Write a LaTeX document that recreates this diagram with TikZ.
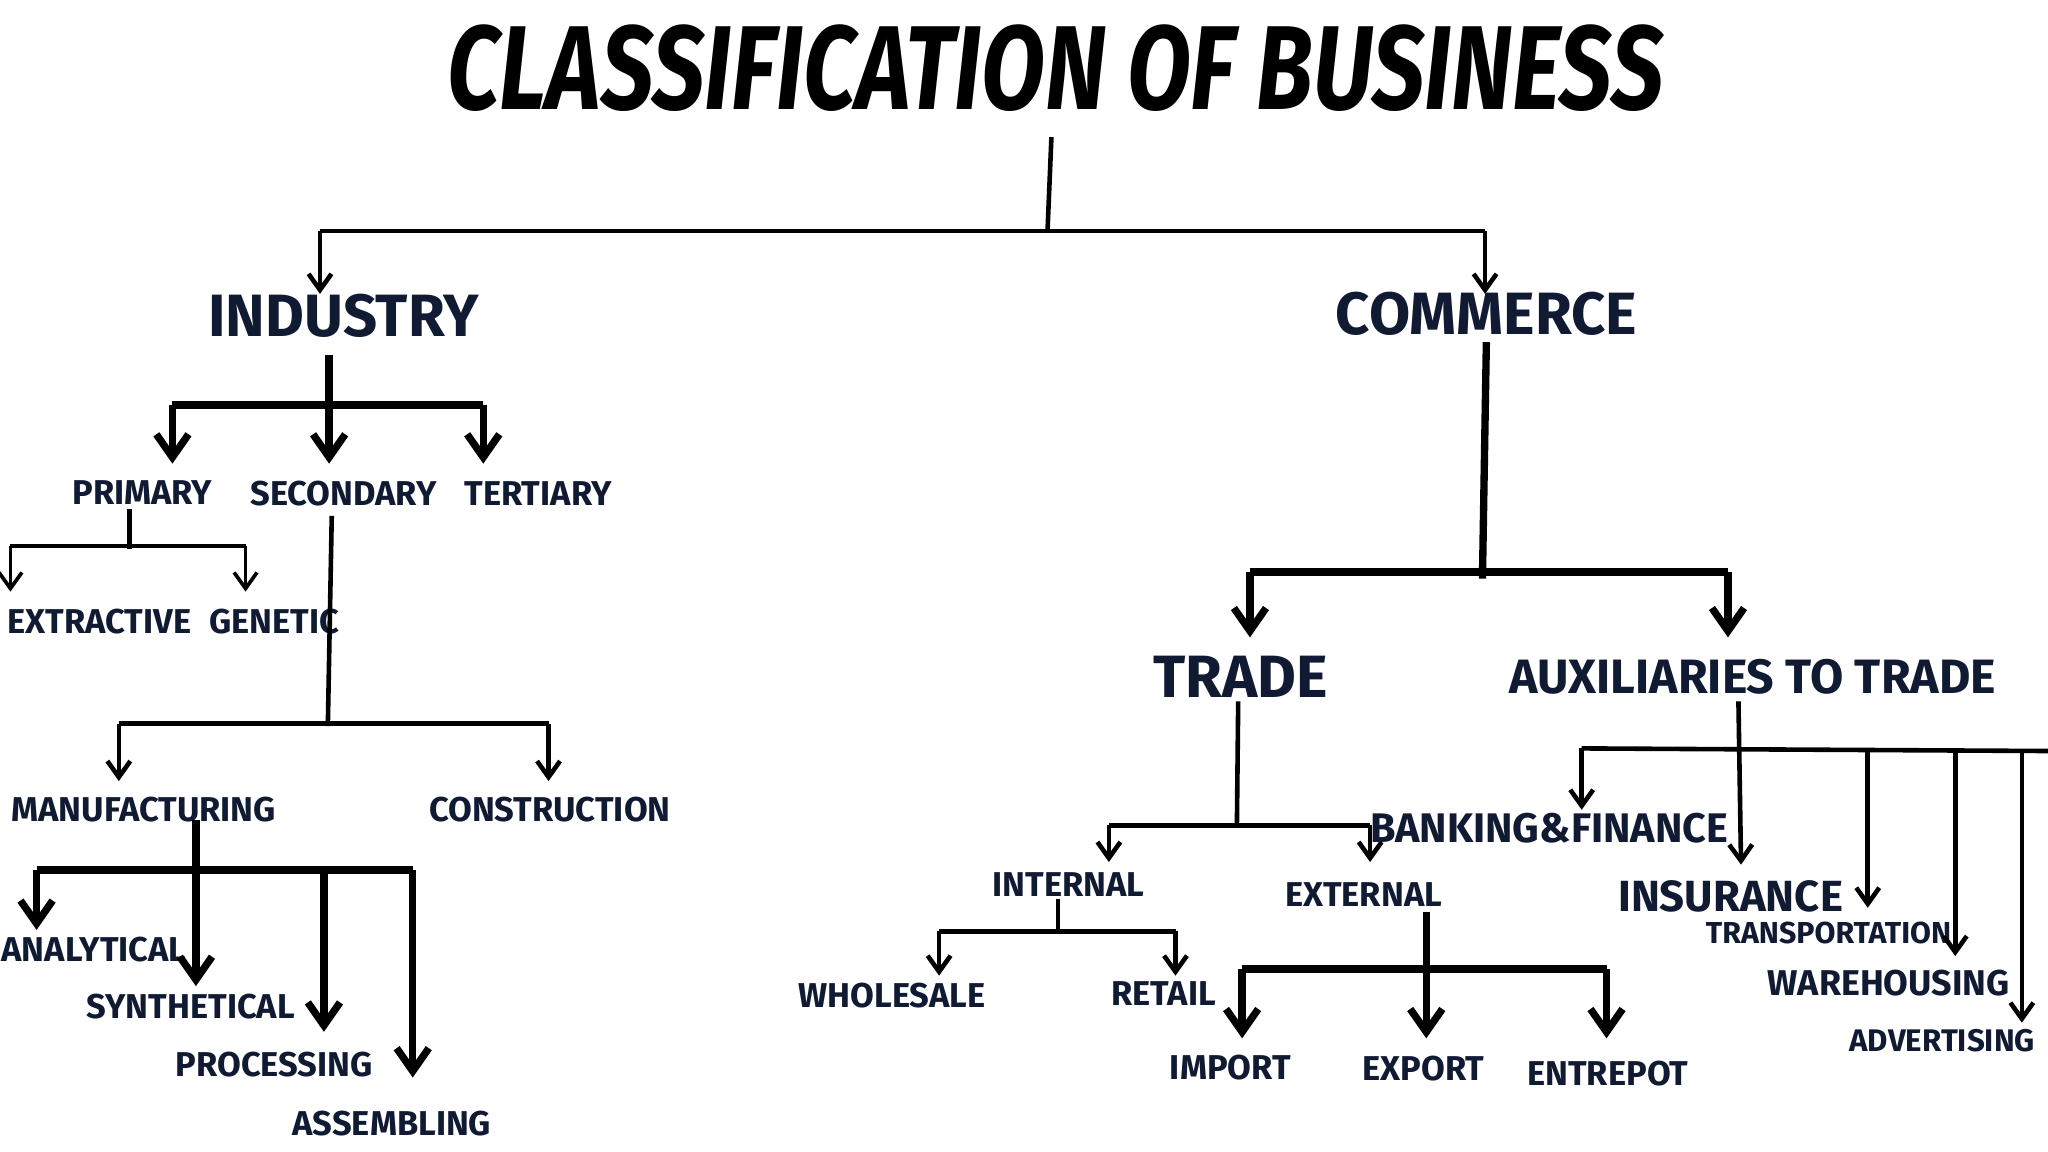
\documentclass[tikz,border=0pt]{standalone}
\usepackage{fontspec}
\setmainfont{Fira Sans}
\usetikzlibrary{arrows.meta}
\definecolor{navy}{HTML}{101B33}
\tikzset{
  lbl/.style={text=navy,font=\bfseries,inner sep=0pt},
  big/.style={lbl,font=\bfseries\fontsize{13}{13}\selectfont},
  mid/.style={lbl,font=\bfseries\fontsize{10.5}{10.5}\selectfont},
  sml/.style={lbl,font=\bfseries\fontsize{7.5}{7.5}\selectfont},
  ln/.style={line width=1pt,black},
  thk/.style={line width=1.6pt,black},
  arr/.style={ln,-{Straight Barb[length=3.5pt,width=5pt]}},
  tarr/.style={thk,-{Straight Barb[length=5pt,width=7pt]}},
}
\begin{document}
\begin{tikzpicture}[x=0.01cm,y=-0.01cm]
\useasboundingbox[fill=white] (0,0) rectangle (1568,882);
\node[lbl,text=black,font=\bfseries\itshape\fontsize{26}{26}\selectfont] (title) at (808,52) {\scalebox{0.78}[1]{CLASSIFICATION OF BUSINESS}};
% level 1
\node[big] (ind) at (263,242) {INDUSTRY};
\node[big] (com) at (1138,240) {COMMERCE};
\coordinate (t0) at (805,105); \coordinate (t1) at (802,177);
\coordinate (ti) at (245,177); \coordinate (tc) at (1137,177);
\draw[ln] (t0) -- (t1);
\draw[ln] (ti) -- (tc);
\draw[arr] (ti) -- (245,225);
\draw[arr] (tc) -- (1137,225);
% industry
\node[sml] (pri) at (109,377) {PRIMARY};
\node[sml] (sec) at (263,378) {SECONDARY};
\node[sml] (ter) at (412,378) {TERTIARY};
\draw[thk] (252,272) -- (252,310);
\draw[thk] (132,310) -- (370,310);
\draw[tarr] (132,310) -- (132,355);
\draw[tarr] (252,310) -- (252,355);
\draw[tarr] (370,310) -- (370,355);
\node[sml] (ext) at (76,476) {EXTRACTIVE};
\node[sml] (gen) at (210,476) {GENETIC};
\draw[ln] (99,390) -- (99,420);
\draw[ln] (8,418) -- (188,418);
\draw[arr,line width=0.8pt] (8,418) -- (8,453);
\draw[arr,line width=0.8pt] (188,418) -- (188,453);
\node[sml] (man) at (110,620) {MANUFACTURING};
\node[sml] (con) at (421,620) {CONSTRUCTION};
\draw[ln] (254,395) -- (251,556);
\draw[ln] (91,554) -- (420,554);
\draw[arr] (91,554) -- (91,598);
\draw[arr] (420,554) -- (420,598);
\node[sml] (ana) at (72,727) {ANALYTICAL};
\node[sml] (syn) at (146,771) {SYNTHETICAL};
\node[sml] (pro) at (210,815) {PROCESSING};
\node[sml] (ass) at (300,860) {ASSEMBLING};
\draw[thk] (150,628) -- (150,666);
\draw[thk] (28,666) -- (316,666);
\draw[tarr] (28,666) -- (28,712);
\draw[tarr] (150,666) -- (150,755);
\draw[tarr] (248,666) -- (248,790);
\draw[tarr] (316,666) -- (316,825);
% commerce
\node[big] (tra) at (950,518) {TRADE};
\node[mid] (aux) at (1342,518) {AUXILIARIES TO TRADE};
\draw[thk] (1138,262) -- (1135,443);
\draw[thk] (957,438) -- (1323,438);
\draw[tarr] (957,438) -- (957,488);
\draw[tarr] (1323,438) -- (1323,488);
\node[sml] (int) at (818,677) {INTERNAL};
\node[sml] (exr) at (1044,685) {EXTERNAL};
\draw[ln] (948,537) -- (947,633);
\draw[ln] (849,632) -- (1049,632);
\draw[arr] (849,632) -- (849,660);
\draw[arr] (1049,632) -- (1049,660);
\node[sml] (who) at (683,762) {WHOLESALE};
\node[sml] (ret) at (891,761) {RETAIL};
\draw[ln] (810,688) -- (810,713);
\draw[ln] (719,713) -- (900,713);
\draw[arr] (719,713) -- (719,747);
\draw[arr] (900,713) -- (900,747);
\node[sml] (imp) at (942,817) {IMPORT};
\node[sml] (exp) at (1090,818) {EXPORT};
\node[sml] (ent) at (1231,822) {ENTREPOT};
\draw[thk] (1092,698) -- (1092,742);
\draw[thk] (951,742) -- (1230,742);
\draw[tarr] (951,742) -- (951,795);
\draw[tarr] (1092,742) -- (1092,795);
\draw[tarr] (1230,742) -- (1230,795);
\node[lbl,font=\bfseries\fontsize{9}{9}\selectfont] (ban) at (1186,634) {BANKING\&FINANCE};
\node[lbl,font=\bfseries\fontsize{9.5}{9.5}\selectfont] (ins) at (1325,686) {INSURANCE};
\node[lbl,font=\bfseries\fontsize{6.6}{6.6}\selectfont] (trn) at (1400,714) {TRANSPORTATION};
\node[lbl,font=\bfseries\fontsize{7.8}{7.8}\selectfont] (war) at (1446,753) {WAREHOUSING};
\node[lbl,font=\bfseries\fontsize{6.8}{6.8}\selectfont] (adv) at (1487,797) {ADVERTISING};
\draw[arr] (1331,537) -- (1333,662);
\draw[ln] (1211,573) -- (1568,575);
\draw[arr] (1211,573) -- (1211,620);
\draw[arr] (1430,574) -- (1430,695);
\draw[arr] (1497,574) -- (1497,732);
\draw[arr] (1548,575) -- (1548,783);
\end{tikzpicture}
\end{document}
